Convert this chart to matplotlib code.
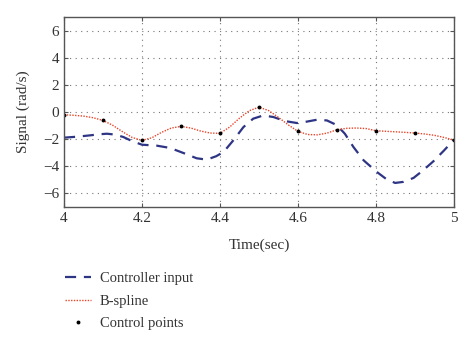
import numpy as np
import matplotlib.pyplot as plt

# control points of the B-spline
t_ctrl = [4.0, 4.1, 4.2, 4.3, 4.4, 4.5, 4.6, 4.7, 4.8, 4.9, 5.0]
y_ctrl = [-0.2, -0.62, -2.09, -1.06, -1.57, 0.36, -1.43, -1.3, -1.38, -1.55, -2.07]

# B-spline curve
t_spl = [4.0, 4.025, 4.05, 4.075, 4.1, 4.125, 4.15, 4.175, 4.2, 4.225, 4.25,
         4.275, 4.3, 4.325, 4.35, 4.375, 4.4, 4.425, 4.45, 4.475, 4.5, 4.525,
         4.55, 4.575, 4.6, 4.625, 4.65, 4.675, 4.7, 4.725, 4.75, 4.775, 4.8,
         4.825, 4.85, 4.875, 4.9, 4.925, 4.95, 4.975, 5.0]
y_spl = [-0.2, -0.24, -0.3, -0.42, -0.62, -0.98, -1.45, -1.88, -2.09, -1.9,
         -1.5, -1.18, -1.06, -1.18, -1.4, -1.55, -1.57, -1.1, -0.45, 0.1, 0.36,
         0.1, -0.4, -0.95, -1.43, -1.66, -1.68, -1.55, -1.3, -1.2, -1.18, -1.22,
         -1.38, -1.42, -1.46, -1.5, -1.55, -1.62, -1.72, -1.88, -2.07]

# controller input
t_ctl = [4.0, 4.033, 4.067, 4.09, 4.11, 4.13, 4.152, 4.175, 4.2, 4.238, 4.272,
         4.306, 4.34, 4.366, 4.39, 4.409, 4.434, 4.46, 4.485, 4.511, 4.537,
         4.567, 4.597, 4.622, 4.648, 4.674, 4.699, 4.72, 4.742, 4.768, 4.802,
         4.827, 4.849, 4.87, 4.896, 4.921, 4.947, 4.973, 5.0]
y_ctl = [-1.89, -1.82, -1.72, -1.64, -1.6, -1.66, -1.84, -2.15, -2.41, -2.48,
         -2.65, -3.02, -3.41, -3.51, -3.26, -2.95, -2.09, -1.11, -0.49, -0.25,
         -0.37, -0.67, -0.81, -0.71, -0.57, -0.62, -0.96, -1.6, -2.58, -3.56,
         -4.42, -4.96, -5.23, -5.15, -4.86, -4.29, -3.63, -2.87, -2.04]

plt.rcParams['font.family'] = ['Liberation Serif', 'DejaVu Serif']

fig = plt.figure(figsize=(4.74, 3.49), dpi=100)
ax = fig.add_axes([0.135, 0.407, 0.823, 0.544])

ax.plot(t_ctl, y_ctl, color='#2e3585', lw=1.6, linestyle=(0, (5, 3.5)),
        label='Controller input')
ax.plot(t_spl, y_spl, color='#e8452a', lw=1.0, linestyle=(0, (1, 1)),
        label='B-spline')
ax.plot(t_ctrl, y_ctrl, linestyle='none', marker='o', ms=1.8, color='black',
        label='Control points')

ax.set_xlim(4, 5)
ax.set_ylim(-7, 7)
ax.set_xticks([4, 4.2, 4.4, 4.6, 4.8, 5])
ax.set_xticklabels(['4', '4.2', '4.4', '4.6', '4.8', '5'])
ax.set_yticks([-6, -4, -2, 0, 2, 4, 6])
ax.set_yticklabels(['\u22126', '\u22124', '\u22122', '0', '2', '4', '6'])
ax.grid(True, linestyle=(0, (1, 4)), color='#777777', lw=0.8)
ax.tick_params(direction='in', top=True, right=True, length=3, labelsize=11,
               color='#555555', labelcolor='#333333')
for s in ax.spines.values():
    s.set_color('#555555')
    s.set_linewidth(1.0)

ax.set_xlabel('Time(sec)', fontsize=11, color='#333333', labelpad=10)
ax.set_ylabel('Signal (rad/s)', fontsize=11, color='#333333', labelpad=9)

ax.legend(loc='upper left', bbox_to_anchor=(0.137, 0.22), bbox_transform=fig.transFigure,
          frameon=False, fontsize=10.5, handlelength=1.8, handletextpad=0.6,
          labelspacing=0.62, borderaxespad=0, borderpad=0, labelcolor='#333333')

fig.savefig('out.png', dpi=100)
